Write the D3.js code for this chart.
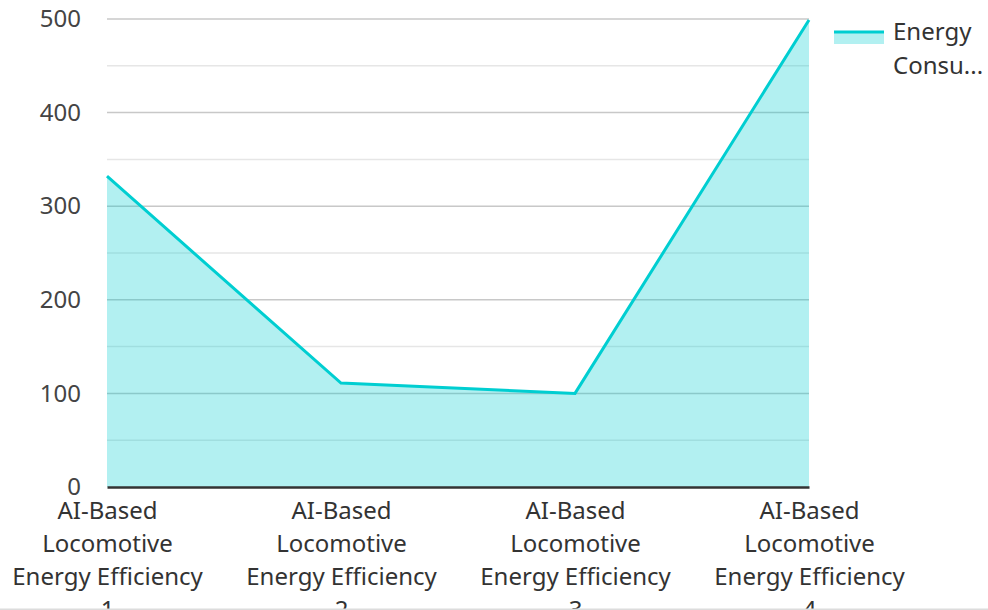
<!DOCTYPE html>
<html>
<head>
<meta charset="utf-8">
<script src="https://cdn.jsdelivr.net/npm/d3@7"></script>
<style>
  html, body { margin: 0; padding: 0; background: #fff; }
  svg { display: block; font-family: "Noto Sans", "Open Sans", sans-serif; }
</style>
</head>
<body>
<svg id="chart" width="988" height="610"></svg>
<script>
// Series data
const categories = [
  "AI-Based Locomotive Energy Efficiency 1",
  "AI-Based Locomotive Energy Efficiency 2",
  "AI-Based Locomotive Energy Efficiency 3",
  "AI-Based Locomotive Energy Efficiency 4"
];
const energyConsumption = [332, 111, 100, 499];
const seriesName = "Energy Consumption";
const majorTicks = [0, 100, 200, 300, 400, 500];
const minorTicks = [50, 150, 250, 350, 450];

const W = 988, H = 610;
const margin = { left: 107, right: 179, top: 19, bottom: 123 };
const color = "#00CED1";
const FS = 24;

const svg = d3.select("#chart");

const x = d3.scalePoint()
  .domain(categories)
  .range([margin.left, W - margin.right]);

const y = d3.scaleLinear()
  .domain([0, 500])
  .range([H - margin.bottom, margin.top]);

// Gridlines
const grid = svg.append("g");
grid.selectAll("line.minor")
  .data(minorTicks)
  .join("line")
  .attr("class", "minor")
  .attr("x1", margin.left).attr("x2", W - margin.right)
  .attr("y1", d => y(d)).attr("y2", d => y(d))
  .attr("stroke", "#e6e6e6").attr("stroke-width", 1.5);
grid.selectAll("line.major")
  .data(majorTicks.filter(d => d > 0))
  .join("line")
  .attr("class", "major")
  .attr("x1", margin.left).attr("x2", W - margin.right)
  .attr("y1", d => y(d)).attr("y2", d => y(d))
  .attr("stroke", "#c8c8c8").attr("stroke-width", 1.5);

// Area + line
const pts = categories.map((c, i) => [c, energyConsumption[i]]);
svg.append("path")
  .datum(pts)
  .attr("fill", color)
  .attr("fill-opacity", 0.3)
  .attr("d", d3.area().x(d => x(d[0])).y0(y(0)).y1(d => y(d[1])));
svg.append("path")
  .datum(pts)
  .attr("fill", "none")
  .attr("stroke", color)
  .attr("stroke-width", 3)
  .attr("stroke-linejoin", "miter")
  .attr("d", d3.line().x(d => x(d[0])).y(d => y(d[1])));

// Y axis labels
const yAxis = svg.append("g")
  .attr("transform", `translate(${margin.left},0)`)
  .call(d3.axisLeft(y).tickValues(majorTicks).tickSize(0).tickPadding(26));
yAxis.select(".domain").remove();
yAxis.selectAll("text")
  .attr("font-family", "'Noto Sans', sans-serif")
  .attr("font-size", FS)
  .attr("fill", "#444");

// X axis
const xAxis = svg.append("g")
  .attr("transform", `translate(0,${y(0)})`)
  .call(d3.axisBottom(x).tickSize(0).tickPadding(0));
xAxis.select(".domain")
  .attr("stroke", "#333").attr("stroke-width", 2.5);
xAxis.selectAll(".tick text").remove();

function wrapWords(text, maxWidth, fontSize) {
  const probe = svg.append("text")
    .attr("font-size", fontSize)
    .attr("font-family", "'Noto Sans', sans-serif")
    .attr("visibility", "hidden");
  const words = text.split(/\s+/);
  const lines = [];
  let cur = "";
  words.forEach(w => {
    const test = cur ? cur + " " + w : w;
    probe.text(test);
    if (probe.node().getComputedTextLength() > maxWidth && cur) {
      lines.push(cur);
      cur = w;
    } else cur = test;
  });
  if (cur) lines.push(cur);
  probe.remove();
  return lines;
}

xAxis.selectAll(".tick").each(function(d) {
  const lines = wrapWords(d, 200, FS);
  const t = d3.select(this).append("text")
    .attr("text-anchor", "middle")
    .attr("font-size", FS)
    .attr("fill", "#333")
    .attr("font-family", "'Noto Sans', sans-serif");
  lines.forEach((ln, i) => {
    t.append("tspan").attr("x", 0).attr("y", 32 + i * 33).text(ln);
  });
});

// Legend
const lg = svg.append("g").attr("transform", "translate(834,0)");
lg.append("rect")
  .attr("x", 0).attr("y", 32).attr("width", 50).attr("height", 12)
  .attr("fill", color).attr("fill-opacity", 0.3);
lg.append("line")
  .attr("x1", 0).attr("x2", 50).attr("y1", 32).attr("y2", 32)
  .attr("stroke", color).attr("stroke-width", 3);
const legendWords = seriesName.split(" ");
const lt = lg.append("text")
  .attr("font-size", FS).attr("fill", "#333")
  .attr("font-family", "'Noto Sans', sans-serif");
lt.append("tspan").attr("x", 59).attr("y", 40).text(legendWords[0]);
lt.append("tspan").attr("x", 59).attr("y", 74).text(legendWords[1].slice(0, 5) + "...");

// Bottom border
svg.append("line")
  .attr("x1", 0).attr("x2", W).attr("y1", 609.25).attr("y2", 609.25)
  .attr("stroke", "#dcdcdc").attr("stroke-width", 1.5);
</script>
</body>
</html>
